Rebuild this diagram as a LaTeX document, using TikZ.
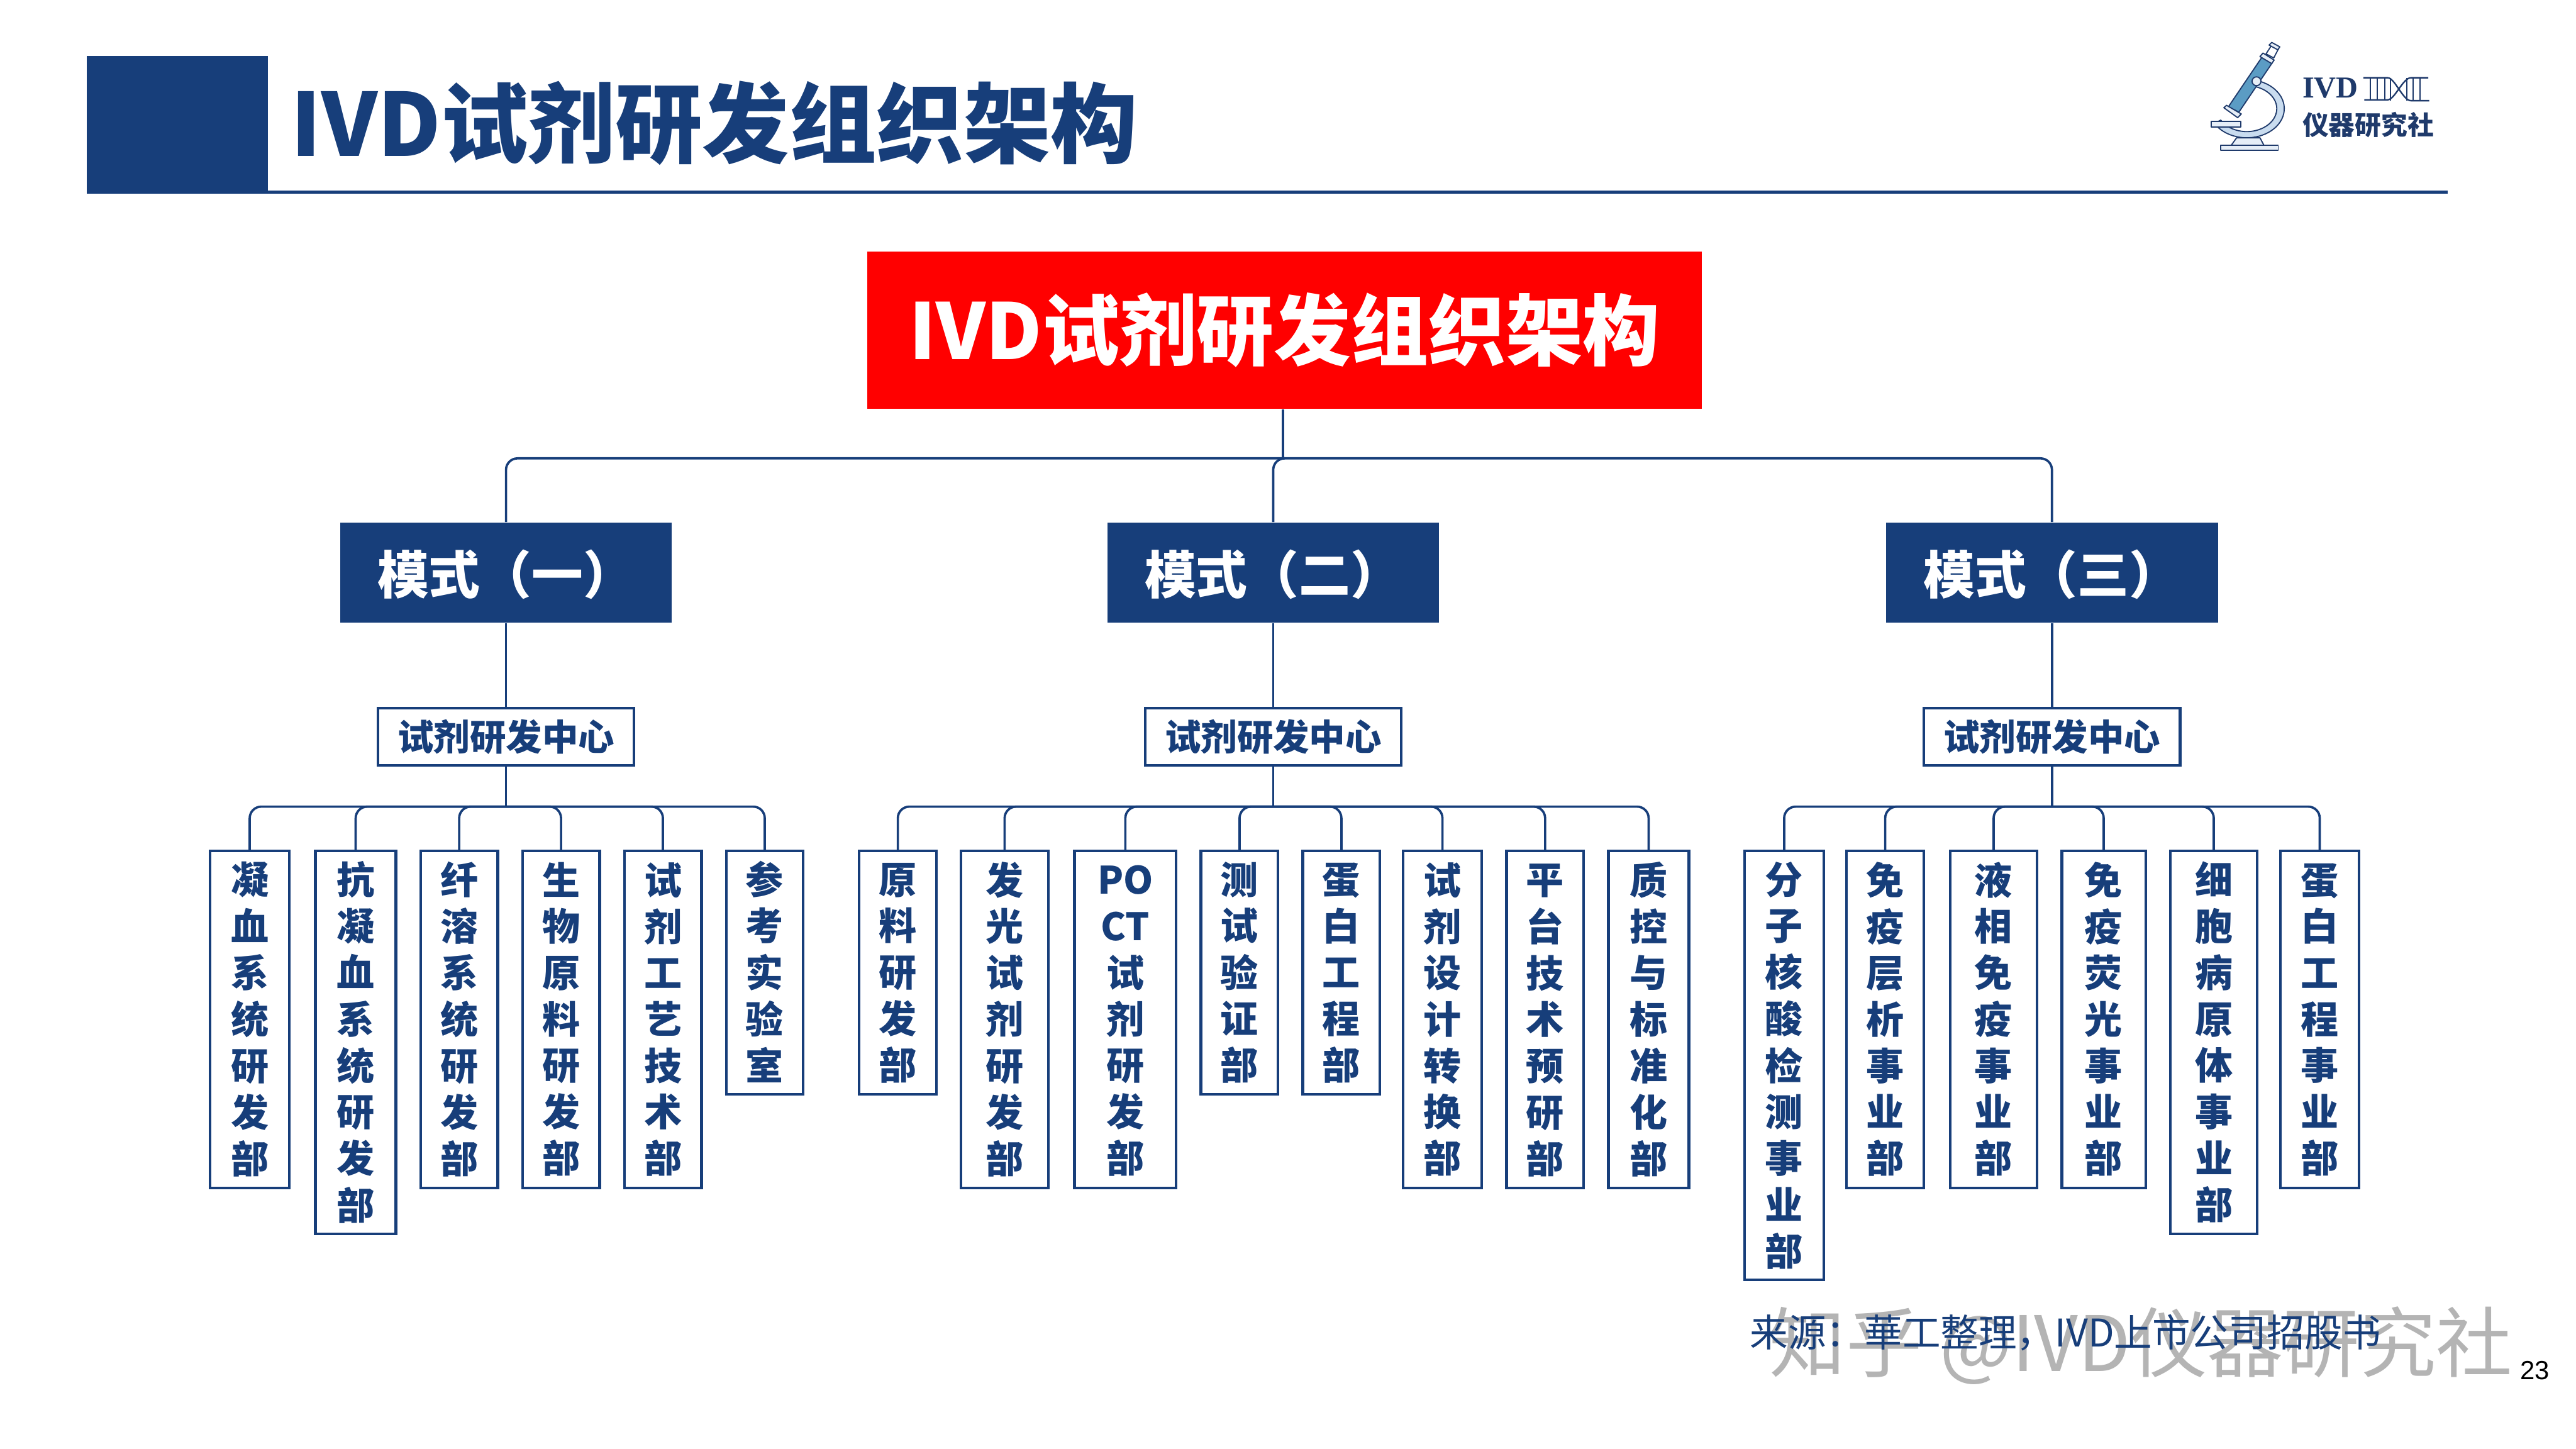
\documentclass[tikz,border=0pt]{standalone}
\usepackage{fontspec}
\setmainfont{Noto Sans CJK SC}
\newfontfamily\lserif{Liberation Serif}
\newfontfamily\lsans{Liberation Sans}
\definecolor{navy}{HTML}{173E7A}
\definecolor{mtube}{HTML}{5B9CC4}
\definecolor{marm}{HTML}{C9DCEF}
\definecolor{mlight}{HTML}{E6EEF7}
\definecolor{mink}{HTML}{1F3A6B}
\definecolor{wm}{HTML}{B4B4B4}
\tikzset{
  rootbox/.style={fill=red,draw=none,inner sep=0pt,text=white,font=\fontsize{47}{47}\selectfont\bfseries},
  modebox/.style={fill=navy,draw=none,inner sep=0pt,text=white,minimum width=202pt,minimum height=61pt,font=\fontsize{31.3}{31.3}\selectfont\bfseries},
  centerbox/.style={fill=white,draw=navy,line width=1.6pt,inner sep=0pt,text=navy,minimum width=156pt,minimum height=35pt,font=\fontsize{22}{22}\selectfont\bfseries},
  leafbox/.style={fill=white,draw=navy,line width=1.6pt,inner sep=0pt,text=navy,font=\fontsize{23}{28.2}\selectfont\bfseries},
  conn/.style={draw=navy,line width=1.4pt,rounded corners=7pt},
  scopeline/.style={draw=mink,line width=.7pt,line join=round},
}
% name, hub, x0, x1, y1, text
\newcommand{\leafnode}[6]{%
  \pgfmathsetmacro{\lw}{#4-#3}%
  \pgfmathsetmacro{\lh}{#5-518}%
  \pgfmathsetmacro{\lx}{(#3+#4)/2}%
  \pgfmathsetmacro{\ly}{(#5+518)/2}%
  \node[leafbox,minimum width=\lw pt,minimum height=\lh pt] (#1) at (\lx,\ly) {\raisebox{0pt}[\dimexpr\height+6pt\relax][\depth]{\begin{tabular}{@{}c@{}}#6\end{tabular}}};
  \draw[conn] (#2) -| (#1.north);
}
\newcommand{\lowered}[1]{\raisebox{0pt}[\dimexpr\height+2pt\relax][\depth]{#1}}
\begin{document}
\begin{tikzpicture}[x=1pt,y=-1pt]
\useasboundingbox (0,0) rectangle (1568,882);
\fill[white] (0,0) rectangle (1568,882);
% header
\fill[navy] (53,34) rectangle (163,118);
\fill[navy] (163,116) rectangle (1490,118);
\node[anchor=west,inner sep=0pt,text=navy,font=\fontsize{53}{53}\selectfont\bfseries] (title) at (177,75) {IVD试剂研发组织架构};
% logo
\begin{scope}[shift={(1306.5,9.7)},x=.1234pt,y=-.1075pt]
  \path[scopeline,fill=marm] (495,525) ++(-75:185 and 165) arc[start angle=-75,end angle=150,x radius=185,y radius=165] -- ([shift={(150:148 and 130)}]495,525) arc[start angle=150,end angle=-75,x radius=148,y radius=130] -- cycle;
  \path[scopeline,fill=mlight] (418,733) -- (445,690) -- (560,690) -- (580,733) -- cycle;
  \path[scopeline,fill=mlight] (365,733) rectangle (650,760);
  \path[scopeline,fill=mlight] (320,597) rectangle (465,630);
  \path[scopeline,fill=mtube] (404,515) -- (456,545) -- (621,265) -- (569,235) -- cycle;
  \path[scopeline,fill=mlight] (382,520) -- (395,506) -- (468,555) -- (450,576) -- cycle;
  \path[scopeline,fill=white] (590,215) -- (618,165) -- (652,185) -- (628,238) -- cycle;
  \path[scopeline,fill=mlight] (560,230) -- (575,210) -- (630,250) -- (618,270) -- cycle;
  \path[scopeline,fill=mlight] (605,165) -- (618,150) -- (658,175) -- (648,192) -- cycle;
  \path[scopeline,fill=mlight] (543,370) circle[x radius=22,y radius=25];
  \node[anchor=west,inner sep=0pt,text=mink,font=\lserif\fontsize{18.5}{18.5}\selectfont\bfseries] (logoivd) at (768,410) {IVD};
  \draw[mink,line width=.9pt] (1070,350) -- (1190,350) .. controls (1225,350) and (1265,480) .. (1305,480) -- (1395,480);
  \draw[mink,line width=.9pt] (1075,475) -- (1190,475) .. controls (1225,475) and (1265,350) .. (1305,350) -- (1390,350);
  \foreach \rx in {1105,1140,1175,1205,1285,1315,1350}
    \draw[mink,line width=.8pt] (\rx,352) -- (\rx,478);
  \node[anchor=west,inner sep=0pt,text=mink,font=\fontsize{16}{16}\selectfont\bfseries] (logocn) at (768,617) {仪器研究社};
\end{scope}
% tree
\node[rootbox,minimum width=508pt,minimum height=96pt] (root) at (782,201) {IVD试剂研发组织架构};
\coordinate (topbus) at (781,279);
\node[modebox] (m1) at (308,348.5) {\lowered{模式（一）}};
\node[modebox] (m2) at (775,348.5) {\lowered{模式（二）}};
\node[modebox] (m3) at (1249,348.5) {\lowered{模式（三）}};
\node[centerbox] (c1) at (308,448.5) {试剂研发中心};
\node[centerbox] (c2) at (775,448.5) {试剂研发中心};
\node[centerbox] (c3) at (1249,448.5) {试剂研发中心};
\coordinate (h1) at (308,491);
\coordinate (h2) at (775,491);
\coordinate (h3) at (1249,491);
\draw[conn] (topbus |- root.south) -- (topbus);
\draw[conn] (topbus) -| (m1.north);
\draw[conn] (topbus) -| (m2.north);
\draw[conn] (topbus) -| (m3.north);
\foreach \i in {1,2,3} {
  \draw[conn] (m\i.south) -- (c\i.north);
  \draw[conn] (c\i.south) -- (h\i);
}
\leafnode{a1}{h1}{128}{176}{723}{凝\\血\\系\\统\\研\\发\\部}
\leafnode{a2}{h1}{192}{241}{751}{抗\\凝\\血\\系\\统\\研\\发\\部}
\leafnode{a3}{h1}{256}{303}{723}{纤\\溶\\系\\统\\研\\发\\部}
\leafnode{a4}{h1}{318}{365}{723}{生\\物\\原\\料\\研\\发\\部}
\leafnode{a5}{h1}{380}{427}{723}{试\\剂\\工\\艺\\技\\术\\部}
\leafnode{a6}{h1}{442}{489}{666}{参\\考\\实\\验\\室}
\leafnode{b1}{h2}{523}{570}{666}{原\\料\\研\\发\\部}
\leafnode{b2}{h2}{585}{638}{723}{发\\光\\试\\剂\\研\\发\\部}
\leafnode{b3}{h2}{654}{716}{723}{PO\\CT\\试\\剂\\研\\发\\部}
\leafnode{b4}{h2}{731}{778}{666}{测\\试\\验\\证\\部}
\leafnode{b5}{h2}{793}{840}{666}{蛋\\白\\工\\程\\部}
\leafnode{b6}{h2}{854}{902}{723}{试\\剂\\设\\计\\转\\换\\部}
\leafnode{b7}{h2}{917}{964}{723}{平\\台\\技\\术\\预\\研\\部}
\leafnode{b8}{h2}{979}{1028}{723}{质\\控\\与\\标\\准\\化\\部}
\leafnode{d1}{h3}{1062}{1110}{779}{分\\子\\核\\酸\\检\\测\\事\\业\\部}
\leafnode{d2}{h3}{1124}{1171}{723}{免\\疫\\层\\析\\事\\业\\部}
\leafnode{d3}{h3}{1187}{1240}{723}{液\\相\\免\\疫\\事\\业\\部}
\leafnode{d4}{h3}{1255}{1306}{723}{免\\疫\\荧\\光\\事\\业\\部}
\leafnode{d5}{h3}{1321}{1374}{751}{细\\胞\\病\\原\\体\\事\\业\\部}
\leafnode{d6}{h3}{1388}{1436}{723}{蛋\\白\\工\\程\\事\\业\\部}
% watermark, source, page number
\node[anchor=west,inner sep=0pt,text=wm,font=\fontsize{46.5}{46.5}\selectfont] (wmark) at (1077,819) {知乎 @IVD仪器研究社};
\node[anchor=west,inner sep=0pt,text=navy,font=\fontsize{23.2}{23.2}\selectfont] (source) at (1065,811) {来源：華工整理，IVD上市公司招股书};
\node[anchor=east,inner sep=0pt,text=black,font=\lsans\fontsize{16}{16}\selectfont] (pageno) at (1552,834) {23};
\end{tikzpicture}
\end{document}
